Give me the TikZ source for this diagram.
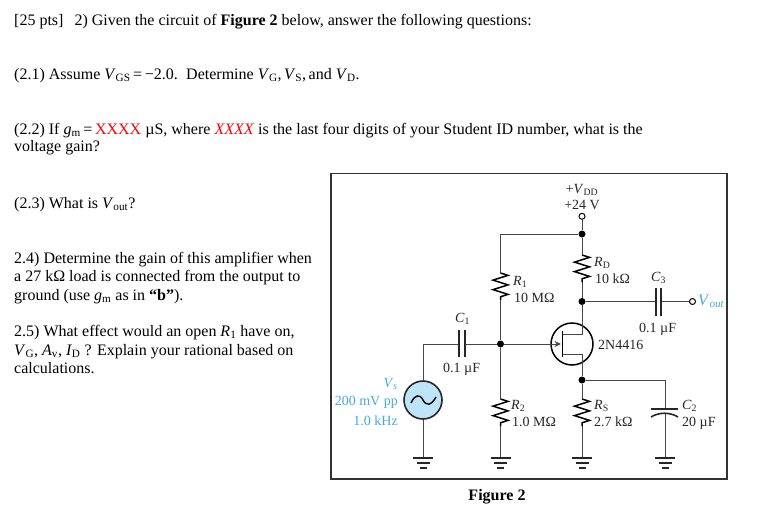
\documentclass[tikz,border=0pt]{standalone}
\usepackage{fontspec}
\setmainfont{Liberation Serif}
\usetikzlibrary{arrows.meta,decorations.pathmorphing,positioning}
\definecolor{srcblue}{RGB}{70,170,220}
\definecolor{srcfill}{RGB}{190,228,247}
\definecolor{wirecol}{RGB}{70,70,70}
\newcommand{\lowtxt}[1]{\textsubscript{#1}}
\newcommand{\itv}{\textit{V}}
\tikzset{
  txt/.style={anchor=base west,inner sep=0pt,font=\fontsize{16}{18}\selectfont},
  lbl/.style={anchor=base west,inner sep=0pt,font=\fontsize{14}{16}\selectfont,text=black!85},
  srclbl/.style={anchor=base east,inner sep=0pt,font=\fontsize{14}{16}\selectfont,text=srcblue},
  wire/.style={draw=wirecol,line width=1pt},
  plate/.style={draw=black!85,line width=1.6pt},
  resistor/.style={draw=black,line width=1.5pt,decorate,decoration={zigzag,segment length=9.5pt,amplitude=7.5pt}},
  dot/.style={circle,fill=black,inner sep=0pt,minimum size=7pt},
  term/.style={circle,draw=black,fill=white,line width=1pt,inner sep=0pt,minimum size=6pt},
  gnd/.pic={
    \draw[draw=black!85,line width=1.5pt] (-10,0) -- (10,0) (-6.5,5) -- (6.5,5) (-3.5,10) -- (3.5,10);
  }
}

\begin{document}
\begin{tikzpicture}[x=1pt,y=-1pt]
\useasboundingbox[fill=white] (0,0) rectangle (763,509);

% Question text
\node[txt] (q0) at (14,25) {[25 pts]\hspace{11pt}2) Given the circuit of \textbf{Figure 2} below, answer the following questions:};
\node[txt] (q1) at (14,79) {(2.1) Assume \itv\lowtxt{GS}\,=\,−2.0.\hspace{3pt} Determine \itv\lowtxt{G},\hspace{2.5pt}\itv\lowtxt{S},\hspace{2.5pt}and \itv\lowtxt{D}.};
\node[txt] (q2) at (14,134) {(2.2) If \textit{g}\lowtxt{m}\,=\,\textcolor{red}{XXXX} µS, where \textcolor{red}{\textit{XXXX}} is the last four digits of your Student ID number, what is the};
\node[txt] (q2b) at (14,151) {voltage gain?};
\node[txt] (q3) at (14,208) {(2.3) What is \itv\lowtxt{out}?};
\node[txt] (q4) at (14,263) {2.4) Determine the gain of this amplifier when};
\node[txt] (q4b) at (14,281) {a 27 kΩ load is connected from the output to};
\node[txt] (q4c) at (14,300) {ground (use \textit{g}\lowtxt{m} as in \textbf{“b”}).};
\node[txt] (q5) at (14,336) {2.5) What effect would an open \textit{R}\lowtxt{1} have on,};
\node[txt] (q5b) at (14,355) {\itv\lowtxt{G}, \textit{A}\lowtxt{v}, \textit{I}\lowtxt{D} ? Explain your rational based on};
\node[txt] (q5c) at (14,373) {calculations.};

% Frame
\draw[draw=black!80,line width=1.4pt] (331,173.5) rectangle (727,479);

% Nodes
\node[dot] (top) at (582,234) {};
\node[term,above=10.5pt of top] (vdd) {};
\node[dot] (drain) at (582,301.5) {};
\node[dot] (gate) at (500.5,344) {};
\node[dot] (source) at (582,380) {};
\coordinate (topleft) at (500.5,234);
\node[circle,draw=black,line width=1.5pt,inner sep=0pt,minimum size=42pt] (jfet) at (572,344) {};
\coordinate (chtop) at (562.5,331);
\coordinate (chbot) at (562.5,357);
\coordinate (dtop) at (562.5,334);
\coordinate (dbot) at (582,334);
\coordinate (stop) at (562.5,354);
\coordinate (sbot) at (582,354);
\coordinate (gtip) at (561,344);
\coordinate (rdtop) at (582,255);
\coordinate (rdbot) at (582,282);
\coordinate (r1top) at (500.5,273);
\coordinate (r1bot) at (500.5,300);
\coordinate (r2top) at (500.5,399);
\coordinate (r2bot) at (500.5,426);
\coordinate (rstop) at (582,399);
\coordinate (rsbot) at (582,426);
\coordinate (c1a) at (459,344);
\coordinate (c1b) at (465,344);
\coordinate (c3a) at (656,301.5);
\coordinate (c3b) at (661,301.5);
\node[term] (out) at (692.5,301.5) {};
\coordinate (c2corner) at (665,380);
\coordinate (c2a) at (665,409);
\coordinate (c2b) at (665,413);
\coordinate (srccorner) at (423,344);
\node[circle,draw=black!85,fill=srcfill,line width=1.6pt,inner sep=0pt,minimum size=38pt] (vs) at (423,400) {};
\coordinate (g1) at (423,458);
\coordinate (g2) at (500.5,458);
\coordinate (g3) at (582,458);
\coordinate (g4) at (665,458);

% Connect nodes
\draw[wire] (vdd) -- (top) -- (rdtop);
\draw[wire] (top) -- (topleft) -- (r1top);
\draw[wire] (rdbot) -- (drain) -- (dbot) -- (dtop);
\draw[wire] (drain) -- (c3a);
\draw[wire] (c3b) -- (out);
\draw[wire] (r1bot) -- (gate) -- (r2top);
\draw[wire] (c1b) -- (gate);
\draw[wire] (c1a) -- (srccorner) -- (vs);
\draw[wire,-{Stealth[length=6.5pt,width=6pt]}] (gate) -- (gtip);
\draw[wire] (stop) -- (sbot) -- (source) -- (rstop);
\draw[wire] (source) -- (c2corner) -- (c2a);
\draw[wire] (c2b) -- (g4);
\draw[wire] (vs) -- (g1);
\draw[wire] (r2bot) -- (g2);
\draw[wire] (rsbot) -- (g3);
\draw[draw=black,line width=1.8pt] (chtop) -- (chbot);

% Resistors
\draw[resistor] (rdtop) -- (rdbot);
\draw[resistor] (r1top) -- (r1bot);
\draw[resistor] (r2top) -- (r2bot);
\draw[resistor] (rstop) -- (rsbot);

% Capacitors
\draw[plate] (459,330) -- (459,357) (465,330) -- (465,357);
\draw[plate] (656,288) -- (656,316) (661,288) -- (661,316);
\draw[plate] (651,409) -- (678,409);
\draw[plate] (651,417) .. controls (659,412) and (670,412) .. (678,417);

% Source wave
\draw[draw=black,line width=1.4pt] (411,403) .. controls (415,394) and (420,394) .. (423,400) .. controls (426,406) and (431,406) .. (436,397);

% Grounds
\pic at (g1) {gnd};
\pic at (g2) {gnd};
\pic at (g3) {gnd};
\pic at (g4) {gnd};

% Labels
\node[lbl,anchor=base] (vddname) at (582,193) {+\itv\lowtxt{DD}};
\node[lbl,anchor=base] (vddval) at (582,209) {+24 V};
\node[lbl] (rdname) at (594,266) {\textit{R}\lowtxt{D}};
\node[lbl] (rdval) at (595,283) {10 kΩ};
\node[lbl] (c3name) at (651,281) {\textit{C}\lowtxt{3}};
\node[lbl] (c3val) at (639,332) {0.1 µF};
\node[lbl,text=srcblue,font=\fontsize{16}{18}\selectfont] (voutname) at (698,305) {\itv\lowtxt{\textit{out}}};
\node[lbl] (r1name) at (513,285) {\textit{R}\lowtxt{1}};
\node[lbl] (r1val) at (514,302) {10 MΩ};
\node[lbl] (c1name) at (455,322) {\textit{C}\lowtxt{1}};
\node[lbl] (c1val) at (443,372) {0.1 µF};
\node[lbl] (jfetname) at (598,349) {2N4416};
\node[srclbl] (vsname) at (398,387) {\itv\lowtxt{\textit{s}}};
\node[srclbl] (vsamp) at (398,405) {200 mV pp};
\node[srclbl] (vsfreq) at (398,425) {1.0 kHz};
\node[lbl] (r2name) at (511,409) {\textit{R}\lowtxt{2}};
\node[lbl] (r2val) at (512,426) {1.0 MΩ};
\node[lbl] (rsname) at (594,409) {\textit{R}\lowtxt{S}};
\node[lbl] (rsval) at (594,426) {2.7 kΩ};
\node[lbl] (c2name) at (682,409) {\textit{C}\lowtxt{2}};
\node[lbl] (c2val) at (682,426) {20 µF};
\node[txt,anchor=base] (figname) at (497,500) {\textbf{Figure 2}};

\end{tikzpicture}
\end{document}
